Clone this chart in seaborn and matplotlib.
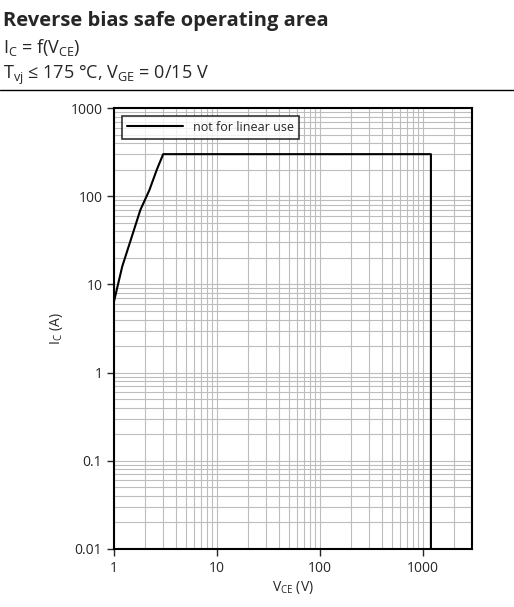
import numpy as np
import pandas as pd
import matplotlib
matplotlib.use("Agg")
import matplotlib.pyplot as plt
import seaborn as sns
from matplotlib.ticker import LogLocator, FixedLocator, FixedFormatter, NullFormatter

# RBSOA curve
vce = [1.0, 1.2, 1.5, 1.8, 2.2, 2.6, 3.0, 1200, 1200]
ic = [6.5, 16, 36, 70, 117, 200, 300, 300, 0.01]

sns.set_style("white")
plt.rcParams["font.family"] = ["Open Sans", "DejaVu Sans"]

fig = plt.figure(figsize=(5.14, 6.07), dpi=100)
ax = fig.add_axes([0.222, 0.0956, 0.696, 0.7264])

df = pd.DataFrame({"VCE": vce, "IC": ic})
sns.lineplot(data=df, x="VCE", y="IC", sort=False, estimator=None, color="black", lw=1.5,
             ax=ax, label="not for linear use")

ax.set_xscale("log")
ax.set_yscale("log")
ax.set_xlim(1, 3000)
ax.set_ylim(0.01, 1000)

ax.xaxis.set_major_locator(FixedLocator([1, 10, 100, 1000]))
ax.xaxis.set_major_formatter(FixedFormatter(["1", "10", "100", "1000"]))
ax.yaxis.set_major_locator(FixedLocator([0.01, 0.1, 1, 10, 100, 1000]))
ax.yaxis.set_major_formatter(FixedFormatter(["0.01", "0.1", "1", "10", "100", "1000"]))
for a in (ax.xaxis, ax.yaxis):
    a.set_minor_locator(LogLocator(base=10, subs=np.arange(2, 10), numticks=20))
    a.set_minor_formatter(NullFormatter())
ax.grid(True, which="both", color="#bdbdbd", lw=0.8)
ax.tick_params(which="major", length=5, width=1, direction="out", labelsize=10, left=True, bottom=True)
ax.tick_params(which="minor", length=0)
for s in ax.spines.values():
    s.set_linewidth(1.5)
    s.set_color("black")

ax.set_xlabel("V$_{\\mathregular{CE}}$ (V)", fontsize=10, labelpad=2)
ax.set_ylabel("I$_{\\mathregular{C}}$ (A)", fontsize=10)

leg = ax.legend(loc="upper left", fontsize=9, frameon=True, fancybox=False,
                edgecolor="black", handlelength=4.5, borderaxespad=0.6)
leg.get_frame().set_linewidth(1.2)

fig.text(0.005, 0.965, "Reverse bias safe operating area", fontsize=14.5, fontweight="bold", va="center")
fig.text(0.005, 0.922, "I$_{\\mathregular{C}}$ = f(V$_{\\mathregular{CE}}$)", fontsize=13, va="center")
fig.text(0.005, 0.877, "T$_{\\mathregular{vj}}$ ≤ 175 °C, V$_{\\mathregular{GE}}$ = 0/15 V", fontsize=13, va="center")
fig.add_artist(plt.Line2D([0.0, 1.0], [0.852, 0.852], color="black", lw=1))

fig.savefig("out.png", dpi=100)
